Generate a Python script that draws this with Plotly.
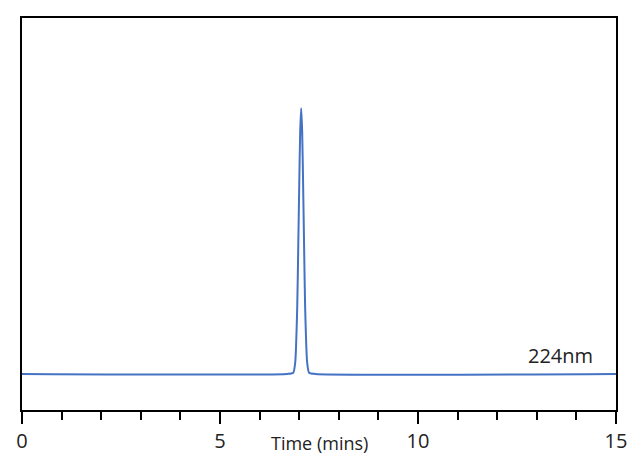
import plotly.graph_objects as go

time_min = [0, 6.7, 6.85, 6.9, 6.95, 6.975, 7.0, 7.025, 7.05, 7.075, 7.1, 7.125, 7.15, 7.2, 7.25, 7.4, 15]
absorb = [0.092, 0.092, 0.095, 0.122, 0.262, 0.41, 0.568, 0.71, 0.77, 0.71, 0.568, 0.41, 0.262, 0.122, 0.095, 0.092, 0.092]
tick_vals = [0, 5, 10, 15]
label = "224nm"
x_title = "Time (mins)"

fig = go.Figure(go.Scatter(x=time_min, y=absorb, mode="lines",
                           line=dict(color="#4472c4", width=2, shape="spline", smoothing=0.6)))
fig.add_annotation(x=13.6, y=0.092, text=label, showarrow=False, yshift=18,
                   font=dict(size=20, color="#222"))
fig.add_annotation(x=0.5, xref="paper", y=-0.085, yref="paper", yanchor="middle",
                   text=x_title, showarrow=False, font=dict(size=18, color="#222"))
fig.update_layout(
    width=635, height=465, margin=dict(l=14, r=27, t=10, b=63),
    plot_bgcolor="white", paper_bgcolor="white", showlegend=False,
    font=dict(family="Open Sans", color="#222"),
    xaxis=dict(range=[0, 15], tickvals=tick_vals, ticks="outside", ticklen=12, tickwidth=1.5,
               tickcolor="black", showline=True, linecolor="black", linewidth=1.5, mirror=True,
               showgrid=False, zeroline=False, tickfont=dict(size=20), automargin=False,
               minor=dict(dtick=1, ticks="outside", ticklen=8, tickcolor="black", tickwidth=1.5)),
    yaxis=dict(range=[0, 1], showticklabels=False, ticks="", showline=True, linecolor="black",
               linewidth=1.5, mirror=True, showgrid=False, zeroline=False, automargin=False),
)
fig.write_html("out.html")
